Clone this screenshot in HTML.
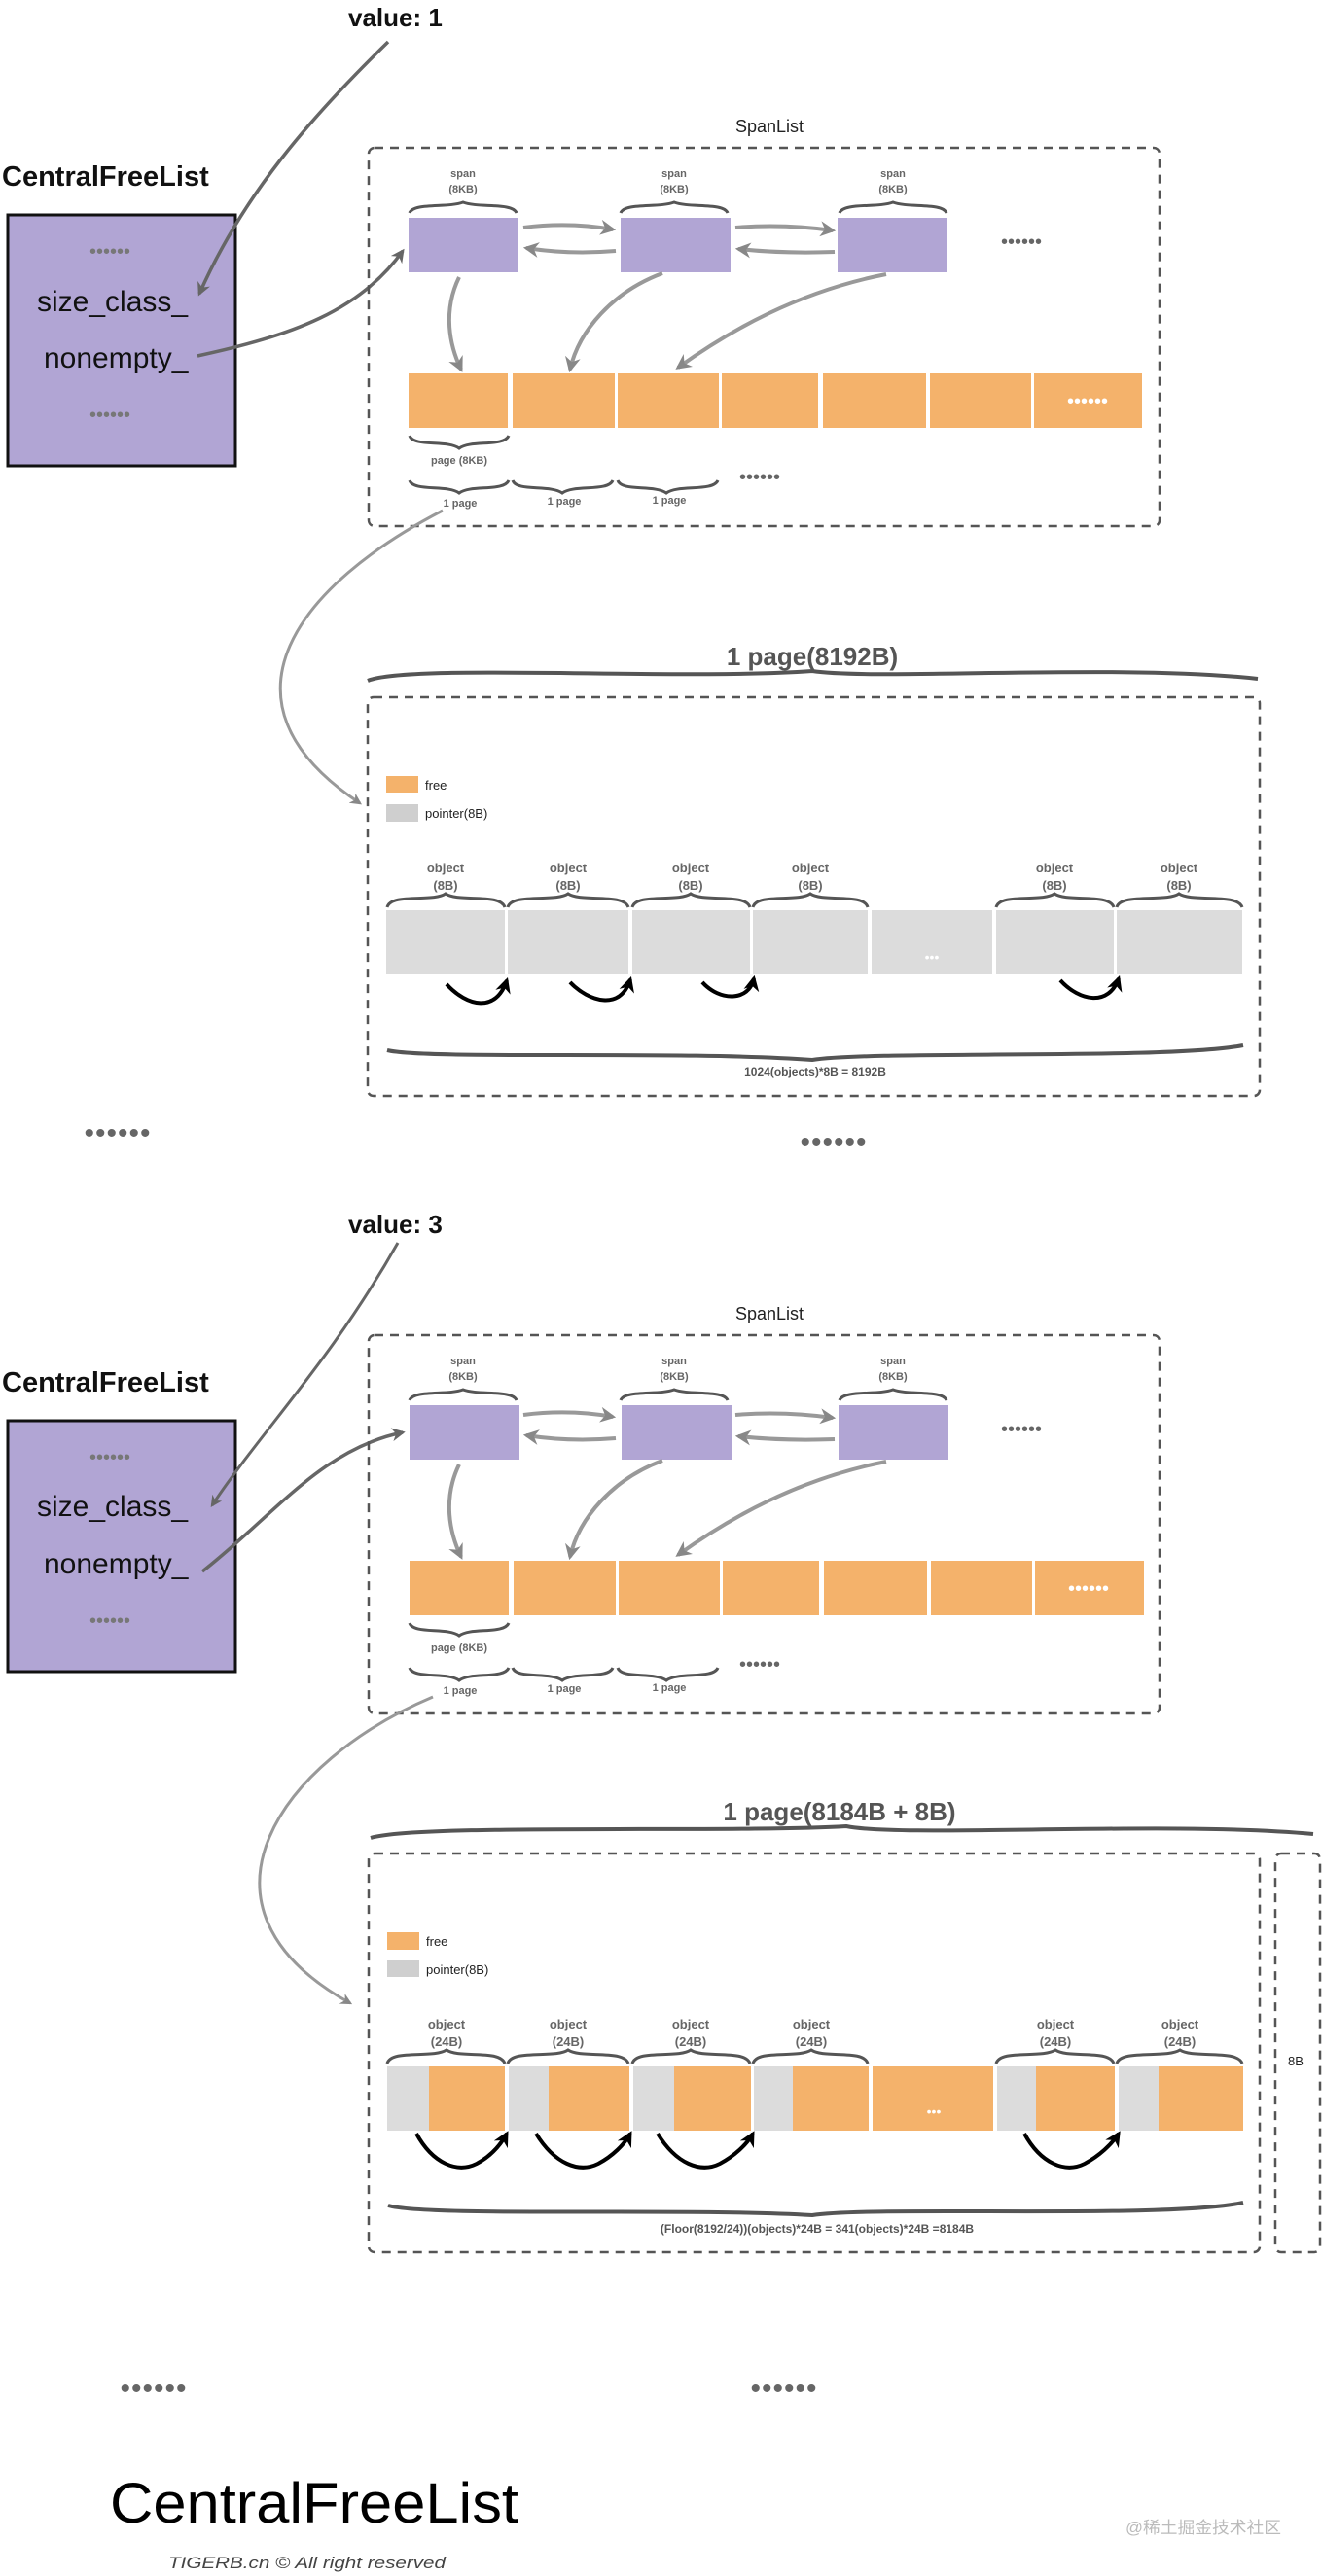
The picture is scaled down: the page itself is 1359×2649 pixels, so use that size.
<!DOCTYPE html>
<html><head><meta charset="utf-8"><style>
html,body{margin:0;padding:0;background:#fff;}
svg{display:block;}
text{font-family:"Liberation Sans","Noto Sans CJK SC",sans-serif;}
</style></head><body>
<svg width="1359" height="2649" viewBox="0 0 1359 2649" xmlns="http://www.w3.org/2000/svg">
<defs>
<marker id="ag" viewBox="0 0 10 10" refX="8" refY="5" markerWidth="4" markerHeight="4" orient="auto"><path d="M0,0 L10,5 L0,10 L3,5 z" fill="#888"/></marker>
<marker id="ad" viewBox="0 0 10 10" refX="8" refY="5" markerWidth="4" markerHeight="4" orient="auto"><path d="M0,0 L10,5 L0,10 L3,5 z" fill="#666"/></marker>
<marker id="ab" viewBox="0 0 10 10" refX="8" refY="5" markerWidth="4" markerHeight="4" orient="auto"><path d="M0,0 L10,5 L0,10 L3,5 z" fill="#000"/></marker>
</defs>

<!-- ===== SECTION 1 LEFT ===== -->
<g>
<text x="358" y="27" font-size="26" font-weight="bold" fill="#111">value: 1</text>
<text x="2" y="191" font-size="29" font-weight="bold" fill="#111">CentralFreeList</text>
<rect x="8" y="221" width="234" height="258" fill="#b1a5d4" stroke="#111" stroke-width="3"/>
<text x="113" y="265" font-size="20" fill="#777" text-anchor="middle">••••••</text>
<text x="38" y="320" font-size="30" fill="#111">size_class_</text>
<text x="45" y="378" font-size="30" fill="#111">nonempty_</text>
<text x="113" y="433" font-size="20" fill="#777" text-anchor="middle">••••••</text>
<path d="M399 43 C 320 120, 250 200, 205 302" stroke="#666" stroke-width="3.5" fill="none" marker-end="url(#ad)"/>
<path d="M203 366 C 300 345, 370 320, 414 258" stroke="#666" stroke-width="3.5" fill="none" marker-end="url(#ad)"/>
</g>

<!-- ===== SECTION 1 SPANLIST ===== -->
<g>
<text x="791" y="136" font-size="18" fill="#222" text-anchor="middle">SpanList</text>
<rect x="379" y="152" width="813" height="389" rx="6" fill="none" stroke="#555" stroke-width="2.5" stroke-dasharray="9 7"/>
<g font-size="11" font-weight="bold" fill="#666" text-anchor="middle">
<text x="476" y="182">span</text><text x="476" y="198">(8KB)</text>
<text x="693" y="182">span</text><text x="693" y="198">(8KB)</text>
<text x="918" y="182">span</text><text x="918" y="198">(8KB)</text>
</g>
<g stroke="#555" stroke-width="3" fill="none">
<path d="M421 219 C 425 208, 460 214, 476 208 C 492 214, 527 208, 531 219"/>
<path d="M638 219 C 642 208, 677 214, 693 208 C 709 214, 744 208, 748 219"/>
<path d="M863 219 C 867 208, 902 214, 918 208 C 934 214, 969 208, 973 219"/>
</g>
<rect x="420" y="224" width="113" height="56" fill="#b1a5d4"/>
<rect x="638" y="224" width="113" height="56" fill="#b1a5d4"/>
<rect x="861" y="224" width="113" height="56" fill="#b1a5d4"/>
<text x="1050" y="255" font-size="20" fill="#666" text-anchor="middle">••••••</text>
<g stroke="#999" stroke-width="4" fill="none">
<path d="M538 234 Q 585 228, 630 236" marker-end="url(#ag)"/>
<path d="M633 258 Q 585 262, 541 255" marker-end="url(#ag)"/>
<path d="M756 234 Q 805 230, 856 237" marker-end="url(#ag)"/>
<path d="M858 259 Q 805 261, 759 256" marker-end="url(#ag)"/>
<path d="M472 285 C 455 320, 462 355, 474 380" marker-end="url(#ag)"/>
<path d="M681 281 C 630 300, 595 340, 586 380" marker-end="url(#ag)"/>
<path d="M911 282 C 820 300, 750 340, 697 378" marker-end="url(#ag)"/>
</g>
<g fill="#f4b26b">
<rect x="420" y="384" width="102" height="56"/>
<rect x="527" y="384" width="105" height="56"/>
<rect x="635" y="384" width="104" height="56"/>
<rect x="742" y="384" width="99" height="56"/>
<rect x="846" y="384" width="106" height="56"/>
<rect x="956" y="384" width="104" height="56"/>
<rect x="1063" y="384" width="111" height="56"/>
</g>
<text x="1118" y="419" font-size="20" fill="#fff" text-anchor="middle">••••••</text>
<g stroke="#555" stroke-width="3" fill="none">
<path d="M421 448 C 425 460, 460 452, 472 461 C 484 452, 518 460, 523 448"/>
<path d="M421 494 C 425 506, 460 498, 472 507 C 484 498, 518 506, 523 494"/>
<path d="M527 494 C 531 506, 565 498, 578 507 C 590 498, 625 506, 630 494"/>
<path d="M635 494 C 639 506, 672 498, 685 507 C 697 498, 733 506, 738 494"/>
</g>
<g font-size="11" font-weight="bold" fill="#666" text-anchor="middle">
<text x="472" y="477">page (8KB)</text>
<text x="473" y="521">1 page</text>
<text x="580" y="519">1 page</text>
<text x="688" y="518">1 page</text>
</g>
<text x="781" y="497" font-size="20" fill="#666" text-anchor="middle">••••••</text>
</g>

<!-- curve to page box 1 -->
<path d="M455 525 C 310 600, 210 720, 370 826" stroke="#999" stroke-width="3" fill="none" marker-end="url(#ag)"/>

<!-- ===== PAGE BOX 1 ===== -->
<text x="835" y="684" font-size="26" font-weight="bold" fill="#555" text-anchor="middle">1 page(8192B)</text>
<path d="M378 700 C 420 682, 700 700, 835 690 C 900 700, 1150 682, 1293 698" stroke="#555" stroke-width="4" fill="none"/>
<rect x="378" y="717" width="917" height="410" rx="6" fill="none" stroke="#555" stroke-width="2.5" stroke-dasharray="9 7"/>
<rect x="397" y="798" width="33" height="17" fill="#f4b26b"/>
<text x="437" y="812" font-size="13" fill="#222">free</text>
<rect x="397" y="827" width="33" height="18" fill="#cfcfcf"/>
<text x="437" y="841" font-size="13" fill="#222">pointer(8B)</text>
<g font-size="13" font-weight="bold" fill="#666" text-anchor="middle">
<text x="458" y="897">object</text><text x="458" y="915">(8B)</text>
<text x="584" y="897">object</text><text x="584" y="915">(8B)</text>
<text x="710" y="897">object</text><text x="710" y="915">(8B)</text>
<text x="833" y="897">object</text><text x="833" y="915">(8B)</text>
<text x="1084" y="897">object</text><text x="1084" y="915">(8B)</text>
<text x="1212" y="897">object</text><text x="1212" y="915">(8B)</text>
</g>
<g stroke="#555" stroke-width="3" fill="none">
<path d="M398 933 C 402 918, 445 928, 458 919 C 471 928, 514 918, 519 933"/>
<path d="M522 933 C 526 918, 571 928, 584 919 C 597 928, 641 918, 646 933"/>
<path d="M650 933 C 654 918, 697 928, 710 919 C 723 928, 766 918, 771 933"/>
<path d="M774 933 C 778 918, 820 928, 833 919 C 846 928, 888 918, 892 933"/>
<path d="M1024 933 C 1028 918, 1071 928, 1084 919 C 1097 928, 1140 918, 1145 933"/>
<path d="M1148 933 C 1152 918, 1199 928, 1212 919 C 1225 928, 1272 918, 1277 933"/>
</g>
<g fill="#dcdcdc">
<rect x="397" y="936" width="122" height="66"/>
<rect x="522" y="936" width="124" height="66"/>
<rect x="650" y="936" width="121" height="66"/>
<rect x="774" y="936" width="118" height="66"/>
<rect x="896" y="936" width="124" height="66"/>
<rect x="1024" y="936" width="121" height="66"/>
<rect x="1148" y="936" width="129" height="66"/>
</g>
<text x="958" y="989" font-size="14" fill="#fff" text-anchor="middle">•••</text>
<g stroke="#000" stroke-width="4" fill="none">
<path d="M459 1012 C 480 1035, 510 1042, 521 1008" marker-end="url(#ab)"/>
<path d="M586 1010 C 605 1030, 638 1040, 648 1007" marker-end="url(#ab)"/>
<path d="M722 1010 C 740 1030, 770 1030, 775 1006" marker-end="url(#ab)"/>
<path d="M1090 1008 C 1110 1030, 1140 1035, 1150 1006" marker-end="url(#ab)"/>
</g>
<path d="M398 1080 C 440 1090, 700 1080, 835 1090 C 900 1080, 1200 1090, 1278 1075" stroke="#555" stroke-width="4" fill="none"/>
<text x="838" y="1106" font-size="12" font-weight="bold" fill="#555" text-anchor="middle">1024(objects)*8B = 8192B</text>

<text x="121" y="1175" font-size="30" fill="#666" text-anchor="middle" letter-spacing="1">••••••</text>
<text x="857" y="1184" font-size="30" fill="#666" text-anchor="middle" letter-spacing="1">••••••</text>

<!-- ===== SECTION 2 LEFT ===== -->
<g>
<text x="358" y="1268" font-size="26" font-weight="bold" fill="#111">value: 3</text>
<text x="2" y="1431" font-size="29" font-weight="bold" fill="#111">CentralFreeList</text>
<rect x="8" y="1461" width="234" height="258" fill="#b1a5d4" stroke="#111" stroke-width="3"/>
<text x="113" y="1505" font-size="20" fill="#777" text-anchor="middle">••••••</text>
<text x="38" y="1559" font-size="30" fill="#111">size_class_</text>
<text x="45" y="1618" font-size="30" fill="#111">nonempty_</text>
<text x="113" y="1673" font-size="20" fill="#777" text-anchor="middle">••••••</text>
<path d="M409 1278 C 340 1400, 270 1470, 218 1548" stroke="#666" stroke-width="3" fill="none" marker-end="url(#ad)"/>
<path d="M208 1616 C 280 1560, 330 1490, 414 1473" stroke="#666" stroke-width="3.5" fill="none" marker-end="url(#ad)"/>
</g>

<!-- ===== SECTION 2 SPANLIST ===== -->
<g transform="translate(0,1221)">
<text x="791" y="136" font-size="18" fill="#222" text-anchor="middle">SpanList</text>
<rect x="379" y="152" width="813" height="389" rx="6" fill="none" stroke="#555" stroke-width="2.5" stroke-dasharray="9 7"/>
<g font-size="11" font-weight="bold" fill="#666" text-anchor="middle">
<text x="476" y="182">span</text><text x="476" y="198">(8KB)</text>
<text x="693" y="182">span</text><text x="693" y="198">(8KB)</text>
<text x="918" y="182">span</text><text x="918" y="198">(8KB)</text>
</g>
<g stroke="#555" stroke-width="3" fill="none">
<path d="M421 219 C 425 208, 460 214, 476 208 C 492 214, 527 208, 531 219"/>
<path d="M638 219 C 642 208, 677 214, 693 208 C 709 214, 744 208, 748 219"/>
<path d="M863 219 C 867 208, 902 214, 918 208 C 934 214, 969 208, 973 219"/>
</g>
<rect x="421" y="224" width="113" height="56" fill="#b1a5d4"/>
<rect x="639" y="224" width="113" height="56" fill="#b1a5d4"/>
<rect x="862" y="224" width="113" height="56" fill="#b1a5d4"/>
<text x="1050" y="255" font-size="20" fill="#666" text-anchor="middle">••••••</text>
<g stroke="#999" stroke-width="4" fill="none">
<path d="M538 234 Q 585 228, 630 236" marker-end="url(#ag)"/>
<path d="M633 258 Q 585 262, 541 255" marker-end="url(#ag)"/>
<path d="M756 234 Q 805 230, 856 237" marker-end="url(#ag)"/>
<path d="M858 259 Q 805 261, 759 256" marker-end="url(#ag)"/>
<path d="M472 285 C 455 320, 462 355, 474 380" marker-end="url(#ag)"/>
<path d="M681 281 C 630 300, 595 340, 586 380" marker-end="url(#ag)"/>
<path d="M911 282 C 820 300, 750 340, 697 378" marker-end="url(#ag)"/>
</g>
<g fill="#f4b26b">
<rect x="421" y="384" width="102" height="56"/>
<rect x="528" y="384" width="105" height="56"/>
<rect x="636" y="384" width="104" height="56"/>
<rect x="743" y="384" width="99" height="56"/>
<rect x="847" y="384" width="106" height="56"/>
<rect x="957" y="384" width="104" height="56"/>
<rect x="1064" y="384" width="112" height="56"/>
</g>
<text x="1119" y="419" font-size="20" fill="#fff" text-anchor="middle">••••••</text>
<g stroke="#555" stroke-width="3" fill="none">
<path d="M421 448 C 425 460, 460 452, 472 461 C 484 452, 518 460, 523 448"/>
<path d="M421 494 C 425 506, 460 498, 472 507 C 484 498, 518 506, 523 494"/>
<path d="M527 494 C 531 506, 565 498, 578 507 C 590 498, 625 506, 630 494"/>
<path d="M635 494 C 639 506, 672 498, 685 507 C 697 498, 733 506, 738 494"/>
</g>
<g font-size="11" font-weight="bold" fill="#666" text-anchor="middle">
<text x="472" y="477">page (8KB)</text>
<text x="473" y="521">1 page</text>
<text x="580" y="519">1 page</text>
<text x="688" y="518">1 page</text>
</g>
<text x="781" y="497" font-size="20" fill="#666" text-anchor="middle">••••••</text>
</g>

<!-- curve to page box 2 -->
<path d="M445 1745 C 290 1810, 180 1960, 360 2060" stroke="#999" stroke-width="3" fill="none" marker-end="url(#ag)"/>

<!-- ===== PAGE BOX 2 ===== -->
<text x="863" y="1872" font-size="26" font-weight="bold" fill="#555" text-anchor="middle">1 page(8184B + 8B)</text>
<path d="M381 1890 C 430 1875, 750 1885, 870 1878 C 930 1890, 1200 1872, 1350 1886" stroke="#555" stroke-width="4" fill="none"/>
<rect x="379" y="1906" width="916" height="410" rx="6" fill="none" stroke="#555" stroke-width="2.5" stroke-dasharray="9 7"/>
<rect x="1311" y="1906" width="46" height="410" rx="6" fill="none" stroke="#555" stroke-width="2.5" stroke-dasharray="9 7"/>
<text x="1332" y="2124" font-size="13" fill="#222" text-anchor="middle">8B</text>
<rect x="398" y="1987" width="33" height="18" fill="#f4b26b"/>
<text x="438" y="2001" font-size="13" fill="#222">free</text>
<rect x="398" y="2016" width="33" height="17" fill="#cfcfcf"/>
<text x="438" y="2030" font-size="13" fill="#222">pointer(8B)</text>
<g font-size="13" font-weight="bold" fill="#666" text-anchor="middle">
<text x="459" y="2086">object</text><text x="459" y="2104">(24B)</text>
<text x="584" y="2086">object</text><text x="584" y="2104">(24B)</text>
<text x="710" y="2086">object</text><text x="710" y="2104">(24B)</text>
<text x="834" y="2086">object</text><text x="834" y="2104">(24B)</text>
<text x="1085" y="2086">object</text><text x="1085" y="2104">(24B)</text>
<text x="1213" y="2086">object</text><text x="1213" y="2104">(24B)</text>
</g>
<g stroke="#555" stroke-width="3" fill="none">
<path d="M398 2122 C 402 2107, 445 2117, 459 2108 C 472 2117, 514 2107, 519 2122"/>
<path d="M522 2122 C 526 2107, 571 2117, 584 2108 C 597 2117, 641 2107, 646 2122"/>
<path d="M650 2122 C 654 2107, 697 2117, 710 2108 C 723 2117, 766 2107, 771 2122"/>
<path d="M774 2122 C 778 2107, 820 2117, 834 2108 C 847 2117, 888 2107, 892 2122"/>
<path d="M1024 2122 C 1028 2107, 1071 2117, 1085 2108 C 1098 2117, 1140 2107, 1145 2122"/>
<path d="M1148 2122 C 1152 2107, 1199 2117, 1213 2108 C 1226 2117, 1272 2107, 1277 2122"/>
</g>
<g fill="#dcdcdc">
<rect x="398" y="2125" width="43" height="66"/>
<rect x="523" y="2125" width="41" height="66"/>
<rect x="651" y="2125" width="42" height="66"/>
<rect x="775" y="2125" width="40" height="66"/>
<rect x="1025" y="2125" width="40" height="66"/>
<rect x="1150" y="2125" width="41" height="66"/>
</g>
<g fill="#f4b26b">
<rect x="441" y="2125" width="78" height="66"/>
<rect x="564" y="2125" width="83" height="66"/>
<rect x="693" y="2125" width="79" height="66"/>
<rect x="815" y="2125" width="78" height="66"/>
<rect x="897" y="2125" width="124" height="66"/>
<rect x="1065" y="2125" width="81" height="66"/>
<rect x="1191" y="2125" width="87" height="66"/>
</g>
<text x="960" y="2176" font-size="14" fill="#fff" text-anchor="middle">•••</text>
<g stroke="#000" stroke-width="4" fill="none">
<path d="M428 2194 C 445 2225, 470 2235, 490 2225 C 505 2217, 515 2205, 521 2194" marker-end="url(#ab)"/>
<path d="M551 2194 C 570 2225, 595 2235, 615 2225 C 630 2217, 642 2205, 648 2194" marker-end="url(#ab)"/>
<path d="M676 2194 C 695 2225, 720 2235, 740 2225 C 755 2217, 768 2205, 774 2194" marker-end="url(#ab)"/>
<path d="M1053 2194 C 1070 2225, 1095 2235, 1115 2225 C 1130 2217, 1143 2205, 1150 2194" marker-end="url(#ab)"/>
</g>
<path d="M399 2268 C 440 2280, 700 2270, 835 2278 C 900 2268, 1200 2282, 1278 2265" stroke="#555" stroke-width="4" fill="none"/>
<text x="840" y="2296" font-size="12" font-weight="bold" fill="#555" text-anchor="middle">(Floor(8192/24))(objects)*24B = 341(objects)*24B =8184B</text>

<text x="158" y="2466" font-size="30" fill="#666" text-anchor="middle" letter-spacing="1">••••••</text>
<text x="806" y="2466" font-size="30" fill="#666" text-anchor="middle" letter-spacing="1">••••••</text>

<text x="113" y="2594" font-size="58" fill="#000" textLength="420" lengthAdjust="spacingAndGlyphs">CentralFreeList</text>
<text x="173" y="2641" font-size="17" font-style="italic" fill="#444" textLength="285" lengthAdjust="spacingAndGlyphs">TIGERB.cn © All right reserved</text>
<text x="1157" y="2605" font-size="17" fill="#bbb" textLength="160" lengthAdjust="spacingAndGlyphs">@稀土掘金技术社区</text>
</svg>
</body></html>
